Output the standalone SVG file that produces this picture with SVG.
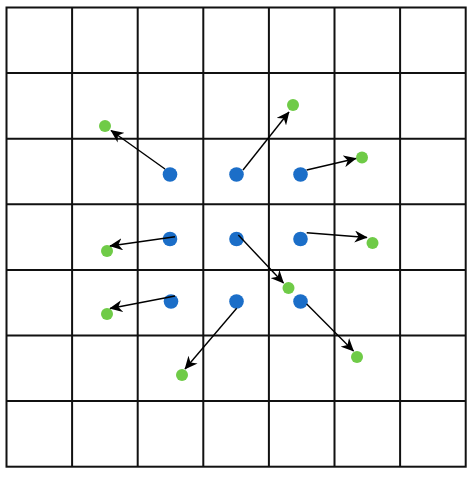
<svg xmlns="http://www.w3.org/2000/svg" width="474" height="477" viewBox="0 0 474 477">
  <style>
    .grid { stroke: #111; stroke-width: 2; fill: none; }
    .blue { fill: #1b6ec8; }
    .green { fill: #6fcb47; }
    .edge { stroke: #000; stroke-width: 1.4; fill: none; marker-end: url(#arrow); }
  </style>
  <defs>
    <marker id="arrow" markerUnits="userSpaceOnUse" viewBox="0 0 10 10" markerWidth="13" markerHeight="12" refX="9.5" refY="5" orient="auto" preserveAspectRatio="none">
      <path d="M0,0 L10,5 L0,10 L3,5 Z" fill="#000"/>
    </marker>
  </defs>
  <rect width="474" height="477" fill="#fff"/>
  <g id="grid" class="grid">
    <rect x="6.5" y="7.5" width="459.2" height="459.2"/>
    <path d="M72.1,7.5V466.7 M137.7,7.5V466.7 M203.3,7.5V466.7 M268.9,7.5V466.7 M334.5,7.5V466.7 M400.1,7.5V466.7"/>
    <path d="M6.5,73.1H465.7 M6.5,138.7H465.7 M6.5,204.3H465.7 M6.5,269.9H465.7 M6.5,335.5H465.7 M6.5,401.1H465.7"/>
  </g>
  <g id="b1" class="blue"><circle cx="170" cy="174.5" r="7.3"/></g>
  <g id="b2" class="blue"><circle cx="236.5" cy="174.5" r="7.3"/></g>
  <g id="b3" class="blue"><circle cx="300.5" cy="174.5" r="7.3"/></g>
  <g id="b4" class="blue"><circle cx="170" cy="239" r="7.3"/></g>
  <g id="b5" class="blue"><circle cx="236.5" cy="239" r="7.3"/></g>
  <g id="b6" class="blue"><circle cx="300.5" cy="239" r="7.3"/></g>
  <g id="b7" class="blue"><circle cx="171" cy="301.5" r="7.3"/></g>
  <g id="b8" class="blue"><circle cx="236.5" cy="301.5" r="7.3"/></g>
  <g id="b9" class="blue"><circle cx="300.5" cy="301.5" r="7.3"/></g>
  <g id="g1" class="green"><circle cx="105" cy="126" r="6"/></g>
  <g id="g2" class="green"><circle cx="293" cy="105" r="6"/></g>
  <g id="g3" class="green"><circle cx="362" cy="157.5" r="6"/></g>
  <g id="g4" class="green"><circle cx="107" cy="251" r="6"/></g>
  <g id="g5" class="green"><circle cx="288.5" cy="288" r="6"/></g>
  <g id="g6" class="green"><circle cx="372.5" cy="243" r="6"/></g>
  <g id="g7" class="green"><circle cx="107" cy="314" r="6"/></g>
  <g id="g8" class="green"><circle cx="182" cy="375" r="6"/></g>
  <g id="g9" class="green"><circle cx="357" cy="357" r="6"/></g>
  <g id="connectors">
    <line class="edge" x1="165" y1="169" x2="111" y2="130.5"/>
    <line class="edge" x1="243" y1="170" x2="289" y2="112"/>
    <line class="edge" x1="306.7" y1="170" x2="356" y2="158.5"/>
    <line class="edge" x1="175" y1="236.7" x2="110" y2="246"/>
    <line class="edge" x1="238.3" y1="235" x2="283.5" y2="283"/>
    <line class="edge" x1="306.7" y1="232.7" x2="367" y2="237.5"/>
    <line class="edge" x1="175" y1="296" x2="110" y2="308.5"/>
    <line class="edge" x1="236.7" y1="308.3" x2="185" y2="369"/>
    <line class="edge" x1="306.7" y1="304" x2="353.5" y2="351"/>
  </g>
</svg>
